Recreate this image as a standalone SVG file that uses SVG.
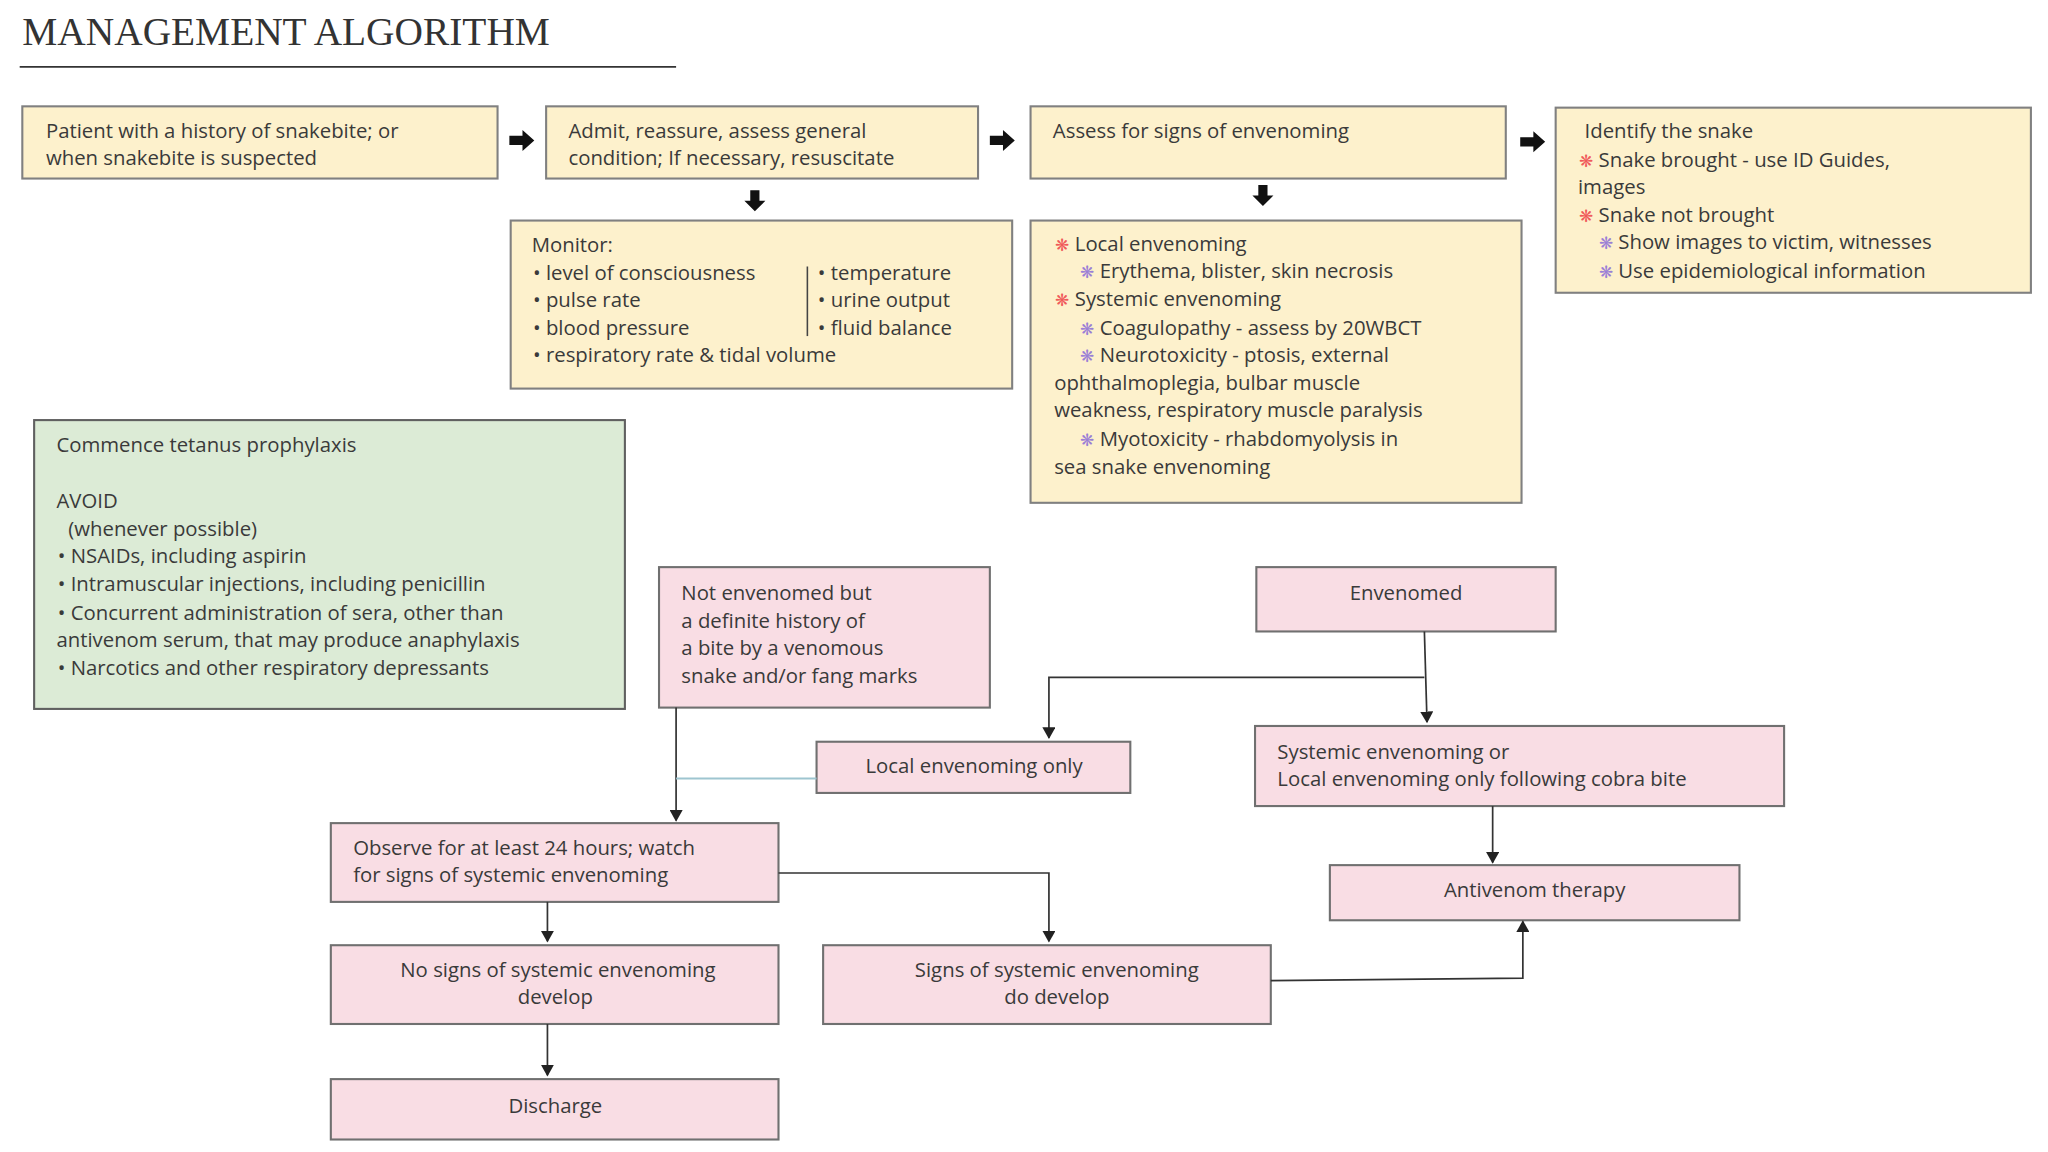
<svg xmlns="http://www.w3.org/2000/svg" width="2048" height="1152" viewBox="0 0 2048 1152">
<style>
text{font-family:"Open Sans","Noto Sans",sans-serif;font-size:15.5px;fill:#3a3a3a}
.y{fill:#fdf1cc;stroke:#808080;stroke-width:1.6}
.g{fill:#dcebd6;stroke:#606060;stroke-width:1.6}
.p{fill:#f9dde4;stroke:#707070;stroke-width:1.6}
.c{fill:none;stroke:#333;stroke-width:1.3}
.m{text-anchor:middle}
.rs{fill:#f05a5a;font-size:13px}
.ps{fill:#9b7fd6;font-size:13px}
</style>
<defs>
<marker id="ah" markerWidth="10" markerHeight="10" refX="8" refY="5" orient="auto" markerUnits="userSpaceOnUse"><path d="M0,0 L9,5 L0,10 z" fill="#222"/></marker>
<polygon id="ra" points="0,-3.5 10,-3.5 10,-8 19,0 10,8 10,3.5 0,3.5" fill="#111"/>
<polygon id="da" points="-3.5,0 3.5,0 3.5,8 8,8 0,16 -8,8 -3.5,8" fill="#111"/>
</defs>
<rect width="2048" height="1152" fill="#fff"/>
<g transform="scale(1.3128)">
<g id="title"><text x="17" y="34" style="font-family:'Liberation Serif',serif;font-size:30px;fill:#333">MANAGEMENT ALGORITHM</text><line x1="15" y1="51" x2="515" y2="51" stroke="#333" stroke-width="1.3"/></g>
<g id="n1"><rect class="y" x="17" y="81" width="362" height="55"/><text x="35" y="105">Patient with a history of snakebite; or</text><text x="35" y="126">when snakebite is suspected</text></g>
<g id="n2"><rect class="y" x="416" y="81" width="329" height="55"/><text x="433" y="105">Admit, reassure, assess general</text><text x="433" y="126">condition; If necessary, resuscitate</text></g>
<g id="n3"><rect class="y" x="785" y="81" width="362" height="55"/><text x="802" y="105">Assess for signs of envenoming</text></g>
<g id="n4"><rect class="y" x="1185" y="82" width="362" height="141"/>
<text x="1207" y="105">Identify the snake</text>
<text x="1203" y="127"><tspan class="rs">❋</tspan> Snake brought - use ID Guides,</text>
<text x="1202" y="148">images</text>
<text x="1203" y="169"><tspan class="rs">❋</tspan> Snake not brought</text>
<text x="1218" y="190"><tspan class="ps">❋</tspan>  Show images to victim, witnesses</text>
<text x="1218" y="212"><tspan class="ps">❋</tspan>  Use epidemiological information</text></g>
<g id="n5"><rect class="y" x="389" y="168" width="382" height="128"/>
<text x="405" y="192">Monitor:</text>
<text x="406" y="213">• level of consciousness</text><text x="406" y="234">• pulse rate</text><text x="406" y="255">• blood pressure</text><text x="406" y="276">• respiratory rate &amp; tidal volume</text>
<text x="623" y="213">• temperature</text><text x="623" y="234">• urine output</text><text x="623" y="255">• fluid balance</text>
<line x1="615" y1="203" x2="615" y2="256" stroke="#444" stroke-width="1.2"/></g>
<g id="n6"><rect class="y" x="785" y="168" width="374" height="215"/>
<text x="804" y="191"><tspan class="rs">❋</tspan> Local envenoming</text>
<text x="823" y="212"><tspan class="ps">❋</tspan> Erythema, blister, skin necrosis</text>
<text x="804" y="233"><tspan class="rs">❋</tspan> Systemic envenoming</text>
<text x="823" y="255"><tspan class="ps">❋</tspan>  Coagulopathy - assess by 20WBCT</text>
<text x="823" y="276"><tspan class="ps">❋</tspan>  Neurotoxicity -  ptosis, external</text>
<text x="803" y="297">ophthalmoplegia, bulbar muscle</text>
<text x="803" y="318">weakness, respiratory muscle paralysis</text>
<text x="823" y="340"><tspan class="ps">❋</tspan>  Myotoxicity -  rhabdomyolysis in</text>
<text x="803" y="361">sea snake envenoming</text></g>
<g id="n7"><rect class="g" x="26" y="320" width="450" height="220"/>
<text x="43" y="344">Commence tetanus prophylaxis</text>
<text x="43" y="387">AVOID</text>
<text x="52" y="408">(whenever possible)</text>
<text x="44" y="429">• NSAIDs, including aspirin</text>
<text x="44" y="450">• Intramuscular injections, including penicillin</text>
<text x="44" y="472">• Concurrent administration of sera, other than</text>
<text x="43" y="493">antivenom serum, that may produce anaphylaxis</text>
<text x="44" y="514">• Narcotics and other respiratory depressants</text></g>
<g id="n8"><rect class="p" x="502" y="432" width="252" height="107"/>
<text x="519" y="457">Not envenomed but</text><text x="519" y="478">a definite history of</text><text x="519" y="499">a bite by a venomous</text><text x="519" y="520">snake and/or fang marks</text></g>
<g id="n9"><rect class="p" x="957" y="432" width="228" height="49"/><text class="m" x="1071" y="457">Envenomed</text></g>
<g id="n10"><rect class="p" x="622" y="565" width="239" height="39"/><text class="m" x="742" y="589">Local envenoming only</text></g>
<g id="n11"><rect class="p" x="956" y="553" width="403" height="61"/><text x="973" y="578">Systemic envenoming or</text><text x="973" y="599">Local envenoming only following cobra bite</text></g>
<g id="n12"><rect class="p" x="252" y="627" width="341" height="60"/><text x="269" y="651">Observe for at least 24 hours; watch</text><text x="269" y="672">for signs of systemic envenoming</text></g>
<g id="n13"><rect class="p" x="1013" y="659" width="312" height="42"/><text class="m" x="1169" y="683">Antivenom therapy</text></g>
<g id="n14"><rect class="p" x="252" y="720" width="341" height="60"/><text class="m" x="425" y="744">No signs of systemic envenoming</text><text class="m" x="423" y="765">develop</text></g>
<g id="n15"><rect class="p" x="627" y="720" width="341" height="60"/><text class="m" x="805" y="744">Signs of systemic envenoming</text><text class="m" x="805" y="765">do develop</text></g>
<g id="n16"><rect class="p" x="252" y="822" width="341" height="46"/><text class="m" x="423" y="848">Discharge</text></g>
<g id="connectors">
<use href="#ra" x="388" y="107"/><use href="#ra" x="754" y="107"/><use href="#ra" x="1158" y="108"/>
<use href="#da" x="575" y="145"/><use href="#da" x="962" y="141"/>
<path class="c" d="M515,539 V625" marker-end="url(#ah)"/>
<path d="M515,593 H622" stroke="#9ec5d0" stroke-width="1.5" fill="none"/>
<path class="c" d="M1085,481 L1087,550" marker-end="url(#ah)"/>
<path class="c" d="M1085,516 H799 V562" marker-end="url(#ah)"/>
<path class="c" d="M1137,614 V657" marker-end="url(#ah)"/>
<path class="c" d="M593,665 H799 V717" marker-end="url(#ah)"/>
<path class="c" d="M417,687 V717" marker-end="url(#ah)"/>
<path class="c" d="M417,780 V819" marker-end="url(#ah)"/>
<path class="c" d="M968,747 L1160,745 V702" marker-end="url(#ah)"/>
</g>
</g>
</svg>
